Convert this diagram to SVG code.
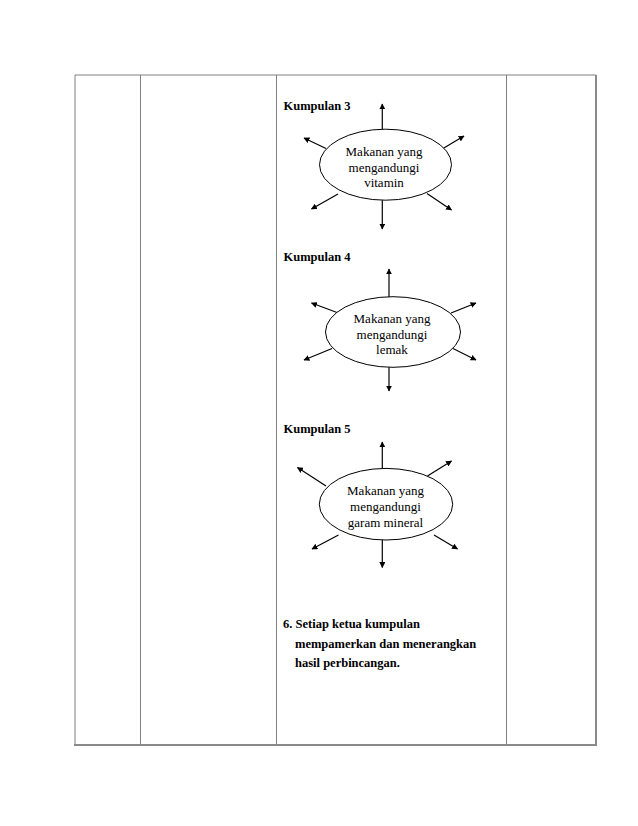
<svg xmlns="http://www.w3.org/2000/svg" width="638" height="826" viewBox="0 0 638 826">
<style>
.grid{stroke:#808080;stroke-width:1;fill:none}
.gridb{stroke:#8a8a8a;stroke-width:2;fill:none}
.ell{fill:#fff;stroke:#000;stroke-width:1}
.arr{stroke:#000;stroke-width:1.2;fill:none;marker-end:url(#ah)}
.et{font-family:"Liberation Serif","Times New Roman",serif;font-size:13px;fill:#000;text-anchor:middle}
.ht{font-family:"Liberation Serif","Times New Roman",serif;font-size:12.5px;font-weight:bold;fill:#000}
</style>
<defs>
<marker id="ah" viewBox="0 0 10 10" refX="9" refY="5" markerWidth="6" markerHeight="6" markerUnits="userSpaceOnUse" orient="auto">
<path d="M0,0 L10,5 L0,10 Z" fill="#000"/>
</marker>
</defs>
<rect width="638" height="826" fill="#fff"/>
<g id="table">
<line class="grid" x1="75" y1="75" x2="596" y2="75"/>
<line class="grid" x1="75" y1="75" x2="75" y2="745"/>
<line class="grid" x1="140.5" y1="75" x2="140.5" y2="745"/>
<line class="grid" x1="276.5" y1="75" x2="276.5" y2="745"/>
<line class="grid" x1="506.5" y1="75" x2="506.5" y2="745"/>
<line class="gridb" x1="596" y1="75" x2="596" y2="745"/>
<line class="gridb" x1="74" y1="745" x2="597" y2="745"/>
</g>
<g id="headings">
<text class="ht" x="283.5" y="109.5">Kumpulan 3</text>
<text class="ht" x="283.5" y="261">Kumpulan 4</text>
<text class="ht" x="283.5" y="432.5">Kumpulan 5</text>
</g>
<g id="connectors">
<line class="arr" x1="382.3" y1="129.5" x2="382.3" y2="104"/>
<line class="arr" x1="382.3" y1="200" x2="382.3" y2="229"/>
<line class="arr" x1="326" y1="148.5" x2="304" y2="138"/>
<line class="arr" x1="443" y1="148.5" x2="464" y2="136"/>
<line class="arr" x1="338" y1="194" x2="311.5" y2="209"/>
<line class="arr" x1="427" y1="193.5" x2="451.5" y2="210"/>

<line class="arr" x1="389" y1="297" x2="389" y2="269"/>
<line class="arr" x1="389" y1="367" x2="389" y2="391"/>
<line class="arr" x1="337" y1="312.5" x2="311.5" y2="303"/>
<line class="arr" x1="451" y1="313" x2="476" y2="303"/>
<line class="arr" x1="332" y1="348.5" x2="304" y2="360"/>
<line class="arr" x1="453" y1="348.5" x2="476" y2="360"/>

<line class="arr" x1="382.3" y1="468.5" x2="382.3" y2="442"/>
<line class="arr" x1="382.3" y1="540" x2="382.3" y2="567.5"/>
<line class="arr" x1="326" y1="486" x2="297.5" y2="467.5"/>
<line class="arr" x1="427.5" y1="476" x2="451.5" y2="461"/>
<line class="arr" x1="338.5" y1="535" x2="312" y2="549"/>
<line class="arr" x1="434" y1="535" x2="457.5" y2="549"/>
</g>
<g id="node-vitamin">
<ellipse class="ell" cx="385.5" cy="164.7" rx="66" ry="35.5"/>
<text class="et" x="384" y="156">Makanan yang</text>
<text class="et" x="384" y="171.5">mengandungi</text>
<text class="et" x="384" y="187">vitamin</text>
</g>
<g id="node-lemak">
<ellipse class="ell" cx="393" cy="332" rx="67.5" ry="35.3"/>
<text class="et" x="392" y="323">Makanan yang</text>
<text class="et" x="392" y="338.5">mengandungi</text>
<text class="et" x="392" y="354">lemak</text>
</g>
<g id="node-mineral">
<ellipse class="ell" cx="386" cy="504.2" rx="66.7" ry="35.8"/>
<text class="et" x="385.5" y="495">Makanan yang</text>
<text class="et" x="385.5" y="511">mengandungi</text>
<text class="et" x="385.5" y="527">garam mineral</text>
</g>
<g id="step6">
<text class="ht" x="283" y="627.5">6. Setiap ketua kumpulan</text>
<text class="ht" x="295" y="648">mempamerkan dan menerangkan</text>
<text class="ht" x="295" y="667">hasil perbincangan.</text>
</g>
</svg>
